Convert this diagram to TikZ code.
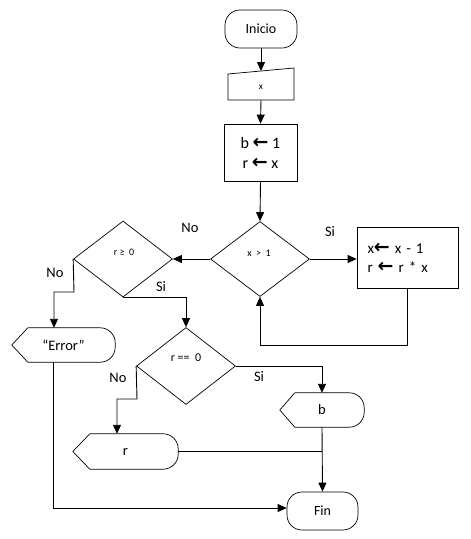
\documentclass[tikz,border=0pt]{standalone}
\usepackage{fontspec}
\setmainfont{Carlito}
\newfontfamily\dejavu{DejaVu Sans}
\usetikzlibrary{shapes.geometric,arrows.meta,calc}
\newcommand\larr{{\dejavu\bfseries\fontsize{19}{19}\selectfont ←}}
\begin{document}
\begin{tikzpicture}[x=1pt,y=-1pt,
  shp/.style={draw=black,line width=0.7pt},
  term/.style={shp,rectangle,rounded corners=15pt,minimum width=72pt,minimum height=38pt,inner sep=0pt,font=\fontsize{14}{14}\selectfont},
  dec/.style={shp,diamond,minimum width=99pt,minimum height=76pt,inner sep=0pt},
  dtxt/.style={inner sep=0pt,font=\fontsize{10}{10}\selectfont},
  proc/.style={shp,rectangle,inner sep=0pt},
  disp/.style={rectangle,inner sep=0pt,font=\fontsize{14.5}{14.5}\selectfont},
  conn/.style={line width=0.9pt,-{Triangle[length=9pt,width=8pt]}},
  plain/.style={line width=0.9pt},
  lab/.style={inner sep=0pt,font=\fontsize{14.5}{14.5}\selectfont}]
\useasboundingbox (0,0) rectangle (471,539);

% terminals
\node[term] (ini) at (261,29) {Inicio};
\node[term,minimum width=71pt] (fin) at (322.5,511) {\raisebox{-2pt}{Fin}};

% manual input
\node[rectangle,inner sep=0pt,minimum width=66pt,minimum height=32pt] (inp) at (261,84) {};
\draw[shp] (228,100) -- (228,74) -- (294,68) -- (294,100) -- cycle;
\node[dtxt,font=\fontsize{9.5}{9.5}\selectfont] (inpt) at (261,87) {x};
\coordinate (inptop) at (261,71);

% process boxes
\node[proc,minimum width=73pt,minimum height=57pt,align=center,font=\fontsize{16}{20}\selectfont] (b1) at (260.5,152.5) {b \larr\ 1\\ r \larr\ x};
\node[proc,minimum width=101pt,minimum height=61pt,text width=80pt,inner xsep=10.5pt,align=left,font=\fontsize{15}{19}\selectfont] (upd) at (407.5,257.5) {x\larr\ x - 1\\ r \larr\ r * x};

% decisions
\node[dec,minimum height=75pt] (d1) at (260,259) {};
\node[dtxt] (d1t) at (259,253) {x \ > \ 1};
\node[dec] (d2) at (123,259) {};
\node[dtxt] (d2t) at (124,252) {r ≥ \ 0};
\node[dec,minimum height=77pt] (d3) at (186,366) {};
\node[dtxt,font=\fontsize{12}{12}\selectfont] (d3t) at (186,358) {r == \ 0};

% displays
\node[disp,minimum width=103pt,minimum height=34pt] (err) at (63.5,345) {“Error”};
\node[disp,minimum width=105pt,minimum height=35pt] (rout) at (125.5,451.5) {r};
\node[disp,minimum width=84pt,minimum height=34pt] (bout) at (322,410) {b};
\foreach \n/\s in {err/16pt,rout/17pt,bout/15pt}{
  \draw[shp,rounded corners=15pt] ([xshift=\s]\n.north west) -- (\n.north east) -- (\n.south east) -- ([xshift=\s]\n.south west);
  \draw[shp] ([xshift=\s]\n.north west) -- (\n.west) -- ([xshift=\s]\n.south west);
}

% helper coordinates
\coordinate (loop) at (260,345);
\coordinate (c1) at (74,292);
\coordinate (c2) at (137,399);
\coordinate (c3) at (53,508);

% connectors
\draw[conn] (ini.south) -- (inptop);
\draw[conn] (inp.south) -- (b1.north);
\draw[conn] (b1.south) -- (d1.north);
\draw[conn] (d1.east) -- (d1.east -| upd.west);
\draw[conn] (upd.south) |- (loop) -- (d1.south);
\draw[conn] (d1.west) -- (d2.east);
\draw[conn] (d2.west) -- (c1) -| ([xshift=-9.5pt]err.north);
\draw[conn] (d2.south) -| (d3.north);
\draw[conn] (d3.west) -- (c2) -| ([xshift=-8.5pt]rout.north);
\draw[conn] (d3.east) -| (bout.north);
\draw[conn] (bout.south) -- (fin.north);
\draw[plain] (rout.east) -- (rout.east -| bout.south);
\draw[conn] ([xshift=-10.5pt]err.south) -- (c3) -- (c3 -| fin.west);

% labels
\node[lab] (l1) at (190,228) {No};
\node[lab] (l2) at (330,232) {Si};
\node[lab] (l3) at (55,273) {No};
\node[lab] (l4) at (161,287) {Si};
\node[lab] (l5) at (118,378) {No};
\node[lab] (l6) at (259,377) {Si};
\end{tikzpicture}
\end{document}
